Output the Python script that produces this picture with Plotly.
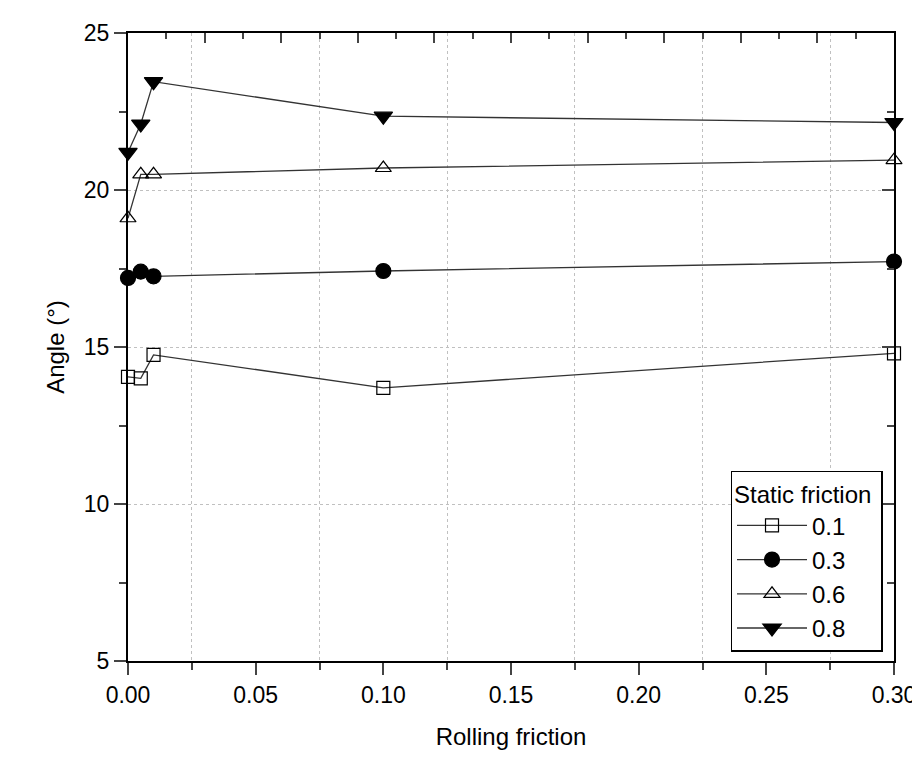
import plotly.graph_objects as go

rolling = [0.0, 0.005, 0.01, 0.1, 0.3]
static_labels = ["0.1", "0.3", "0.6", "0.8"]
angle_01 = [14.05, 14.0, 14.75, 13.7, 14.8]
angle_03 = [17.2, 17.4, 17.25, 17.42, 17.72]
angle_06 = [19.1, 20.5, 20.5, 20.7, 20.95]
angle_08 = [21.2, 22.1, 23.45, 22.35, 22.15]

series = [angle_01, angle_03, angle_06, angle_08]
symbols = ["square-open", "circle", "triangle-up-open", "triangle-down"]
sizes = [13, 15, 14, 16]

fig = go.Figure()
# dummy traces to activate the extra axes (drawn first, below data)
fig.add_trace(go.Scatter(x=[None], y=[None], xaxis="x2", showlegend=False))
fig.add_trace(go.Scatter(x=[None], y=[None], xaxis="x3", showlegend=False))
fig.add_trace(go.Scatter(x=[None], y=[None], yaxis="y2", showlegend=False))

for lab, vals, sym, sz in zip(static_labels, series, symbols, sizes):
    fig.add_trace(
        go.Scatter(
            x=rolling,
            y=vals,
            name=lab,
            mode="lines+markers",
            line=dict(color="#333333", width=1.3),
            marker=dict(symbol=sym, size=sz, color="black",
                        line=dict(color="black", width=1.2)),
            cliponaxis=False,
        )
    )

font = dict(family="Liberation Sans, Arial", size=24, color="black")
tickfont = dict(family="Liberation Sans, Arial", size=23, color="black")
axis_common = dict(showline=True, linecolor="black", linewidth=2, zeroline=False)

fig.update_layout(
    width=920,
    height=767,
    paper_bgcolor="white",
    plot_bgcolor="white",
    margin=dict(l=120, r=30, t=25, b=114),
    font=font,
    xaxis=dict(
        range=[0, 0.3], tickvals=[0, 0.05, 0.1, 0.15, 0.2, 0.25, 0.3],
        tickformat=".2f", ticks="outside", ticklen=12, tickwidth=2,
        tickfont=tickfont,
        minor=dict(dtick=0.025, ticks="outside", ticklen=7, tickwidth=2),
        showgrid=False, title=dict(text="Rolling friction", standoff=22, font=font),
        **axis_common,
    ),
    xaxis2=dict(
        overlaying="x", side="top", range=[0, 0.3], dtick=0.03,
        ticks="inside", ticklen=10, tickwidth=2, showticklabels=False,
        minor=dict(dtick=0.015, ticks="inside", ticklen=6, tickwidth=2),
        showgrid=False, **axis_common,
    ),
    xaxis3=dict(
        overlaying="x", range=[0, 0.3], tick0=0.025, dtick=0.05,
        showticklabels=False, ticks="", showgrid=True,
        gridcolor="#c0c0c0", griddash="dot", gridwidth=1, showline=False,
    ),
    yaxis=dict(
        range=[5, 25], dtick=5, ticks="outside", ticklen=12, tickwidth=2,
        tickfont=tickfont,
        minor=dict(dtick=2.5, ticks="outside", ticklen=7, tickwidth=2),
        showgrid=True, gridcolor="#c0c0c0", griddash="dot", gridwidth=1,
        title=dict(text="Angle (°)", standoff=12, font=font),
        **axis_common,
    ),
    yaxis2=dict(
        overlaying="y", side="right", range=[5, 25], dtick=5,
        ticks="inside", ticklen=12, tickwidth=2, showticklabels=False,
        minor=dict(dtick=2.5, ticks="inside", ticklen=7, tickwidth=2),
        showgrid=False, **axis_common,
    ),
    legend=dict(
        title=dict(text="Static friction ", font=font),
        x=0.985, y=0.015, xanchor="right", yanchor="bottom",
        bordercolor="black", borderwidth=1.5, bgcolor="white",
        font=font, itemwidth=70, tracegroupgap=4,
    ),
)

fig.write_html("out.html")
